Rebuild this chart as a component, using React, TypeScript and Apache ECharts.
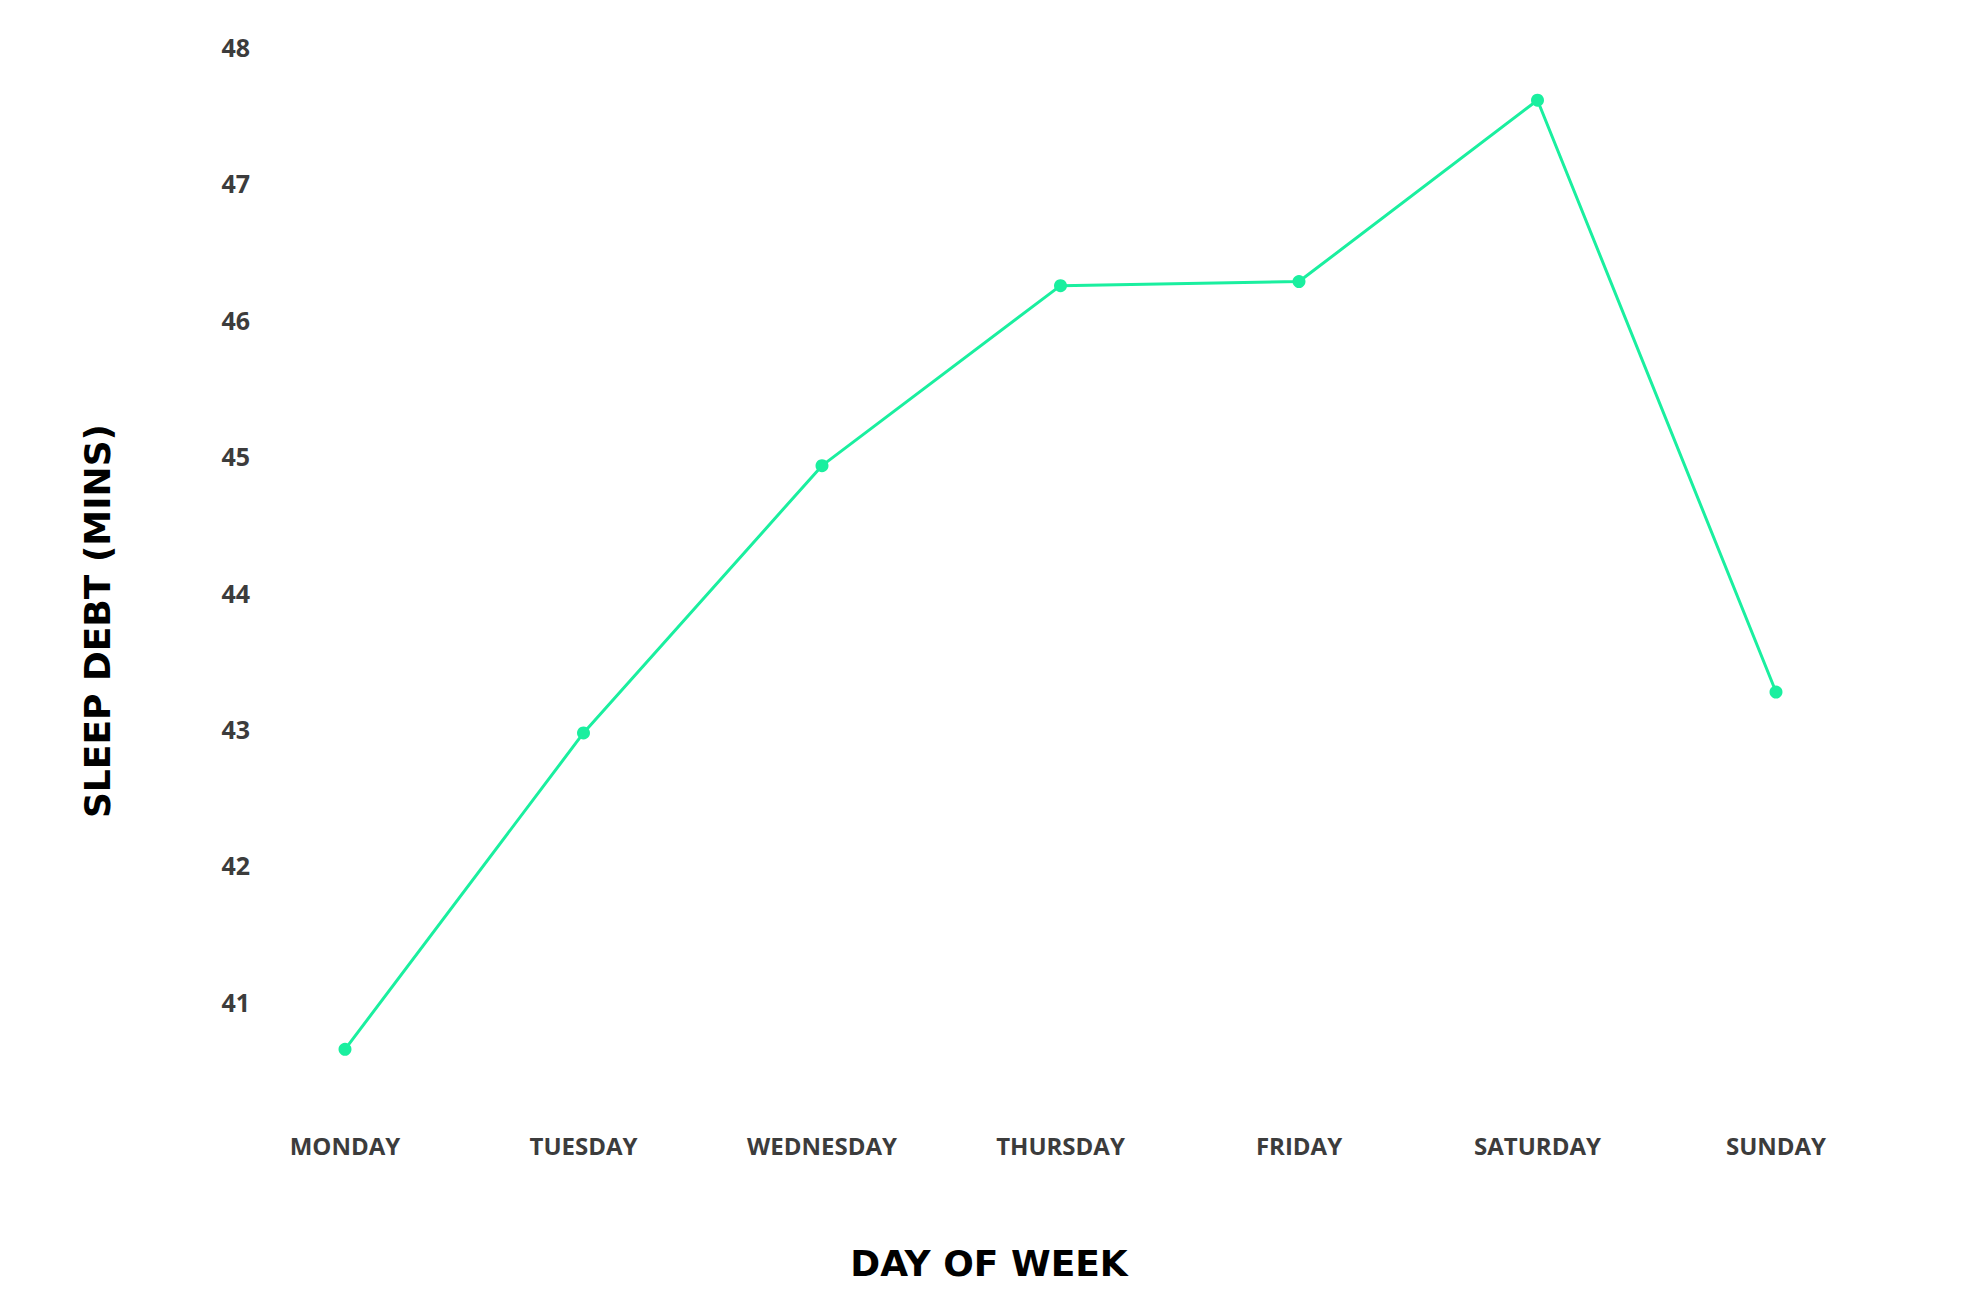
import React, { useEffect, useRef } from "react";
import * as echarts from "echarts";

const days = ["MONDAY", "TUESDAY", "WEDNESDAY", "THURSDAY", "FRIDAY", "SATURDAY", "SUNDAY"];
const sleepDebt = [40.65, 42.97, 44.93, 46.25, 46.28, 47.61, 43.27];
const yMin = 40;
const yMax = 48;
const yStep = 1;
const xTitle = "DAY OF WEEK";
const yTitle = "SLEEP DEBT (MINS)";

const LINE_COLOR = "#1aef9f";
const TICK_COLOR = "#3c3c3c";

export default function App() {
  const ref = useRef<HTMLDivElement>(null);
  useEffect(() => {
    if (!ref.current) return;
    const chart = echarts.init(ref.current, undefined, { renderer: "svg" });
    chart.setOption({
      animation: false,
      backgroundColor: "#ffffff",
      grid: { left: 345, right: 205, top: 47, bottom: 165, containLabel: false },
      xAxis: {
        type: "category",
        data: days,
        boundaryGap: false,
        axisLine: { show: false },
        axisTick: { show: false },
        splitLine: { show: false },
        axisLabel: {
          margin: -5,
          color: TICK_COLOR,
          fontFamily: "Open Sans",
          fontWeight: "bold",
          fontSize: 24,
          interval: 0,
        },
      },
      yAxis: {
        type: "value",
        min: yMin,
        max: yMax,
        interval: yStep,
        axisLine: { show: false },
        axisTick: { show: false },
        splitLine: { show: false },
        axisLabel: {
          margin: 95,
          color: TICK_COLOR,
          fontFamily: "Open Sans",
          fontWeight: "bold",
          fontSize: 25,
          formatter: (v: number) => (v === yMin ? "" : String(v)),
        },
      },
      graphic: [
        {
          type: "text",
          x: 989,
          y: 1263,
          style: {
            text: xTitle,
            fill: "#000000",
            font: "bold 36px 'DejaVu Sans'",
            textAlign: "center",
            textVerticalAlign: "middle",
          },
        },
        {
          type: "text",
          x: 97,
          y: 621,
          rotation: Math.PI / 2,
          style: {
            text: yTitle,
            fill: "#000000",
            font: "bold 36px 'DejaVu Sans'",
            textAlign: "center",
            textVerticalAlign: "middle",
          },
        },
      ],
      series: [
        {
          type: "line",
          data: sleepDebt,
          symbol: "circle",
          symbolSize: 13,
          showAllSymbol: true,
          lineStyle: { color: LINE_COLOR, width: 3 },
          itemStyle: { color: LINE_COLOR },
        },
      ],
    });
    return () => chart.dispose();
  }, []);
  return (
    <div
      ref={ref}
      style={{ position: "fixed", left: 0, top: 0, width: 1981, height: 1303, background: "#fff" }}
    />
  );
}
